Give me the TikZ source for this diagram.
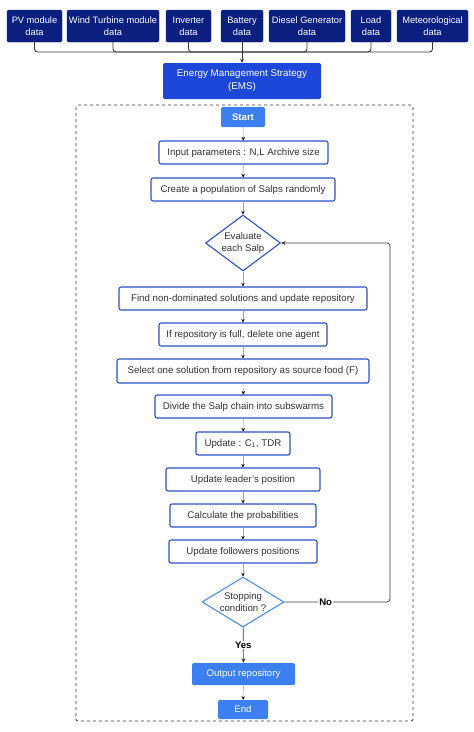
\documentclass[tikz,border=0pt]{standalone}
\usepackage{fontspec}
\setmainfont{Liberation Sans}
\usetikzlibrary{shapes.geometric,arrows.meta}
\definecolor{navy}{HTML}{0B1F80}
\definecolor{emsblue}{HTML}{1C47D8}
\definecolor{ltblue}{HTML}{3B7FF0}
\definecolor{bord}{HTML}{2B50C8}
\definecolor{bord2}{HTML}{4A8FE6}
\definecolor{txt}{HTML}{333333}
\definecolor{lin}{HTML}{3A3A3A}
\tikzset{
  datab/.style={draw=navy,fill=navy,rounded corners=1.5pt,text=white,align=center,minimum height=32pt,inner sep=1pt,font=\fontsize{9.3}{12}\selectfont},
  emsb/.style={fill=emsblue,text=white,rounded corners=1.5pt,align=center,font=\fontsize{9.8}{13}\selectfont},
  termb/.style={fill=ltblue,text=white,rounded corners=1.5pt,font=\fontsize{9.6}{11}\selectfont},
  procb/.style={draw=bord,line width=1.1pt,fill=white,rounded corners=2pt,text=txt,minimum height=23pt,inner sep=1pt,font=\fontsize{9.7}{11}\selectfont},
  decb/.style={diamond,draw=bord,line width=1.1pt,fill=white,inner sep=-10pt,text=txt,align=center,font=\fontsize{9.6}{12}\selectfont},
  flow/.style={draw=gray!70,line width=0.5pt,-{Stealth[length=3.5pt,width=3.5pt,color=black]}},
  conn/.style={draw=lin,line width=0.9pt},
  lbl/.style={fill=white,inner sep=1pt,text=black,font=\bfseries\fontsize{9.6}{11}\selectfont},
}
\begin{document}
\begin{tikzpicture}[x=1pt,y=-1pt]
\useasboundingbox (0,0) rectangle (474,732);
% data boxes
\node[datab,minimum width=55pt] (pv) at (34.5,26) {PV module\\data};
\node[datab,minimum width=92pt] (wind) at (113,26) {Wind Turbine module\\data};
\node[datab,minimum width=45pt] (inv) at (188.5,26) {Inverter\\data};
\node[datab,minimum width=42pt] (bat) at (242,26) {Battery\\data};
\node[datab,minimum width=76pt] (dg) at (307,26) {Diesel Generator\\data};
\node[datab,minimum width=40pt] (load) at (371,26) {Load\\data};
\node[datab,minimum width=71pt] (met) at (432.5,26) {Meteorological\\data};
\node[emsb,minimum width=158pt,minimum height=36pt] (ems) at (242,81) {Energy Management Strategy\\(EMS)};
\coordinate (bus) at (242,52);
\foreach \b in {pv,wind,inv,dg,load,met}{
  \draw[conn,rounded corners=3pt] (\b.south) |- (bus);
}
\draw[conn,-{Stealth[length=4pt,width=4pt]}] (bat.south) -- (ems.north);
% dashed frame
\draw[dashed,line width=0.8pt,draw=lin,rounded corners=2pt] (76,105) rectangle (413,721);
% flow
\node[termb,minimum width=44pt,minimum height=20pt,font=\bfseries\fontsize{9.6}{11}\selectfont] (start) at (243,117) {Start};
\node[procb,minimum width=169pt] (inp) at (243.5,152.5) {Input parameters : N,L Archive size};
\node[procb,minimum width=184pt] (cre) at (243,189.5) {Create a population of Salps randomly};
\node[decb,minimum width=75pt,minimum height=56pt] (eval) at (243,243) {Evaluate\\each Salp};
\node[procb,minimum width=248pt] (find) at (243,298.5) {Find non-dominated solutions and update repository};
\node[procb,minimum width=168pt] (full) at (243,334.5) {If repository is full, delete one agent};
\node[procb,minimum width=252pt,minimum height=24pt] (sel) at (243,371) {Select one solution from repository as source food (F)};
\node[procb,minimum width=177pt] (div) at (243.5,406.5) {Divide the Salp chain into subswarms};
\node[procb,minimum width=94pt] (upd) at (243,443.5) {Update : C\textsubscript{1}, TDR};
\node[procb,minimum width=154pt] (lead) at (243,479.5) {Update leader's position};
\node[procb,minimum width=146pt] (calc) at (243,515.5) {Calculate the probabilities};
\node[procb,minimum width=148pt] (fol) at (243,551.5) {Update followers positions};
\node[decb,draw=bord2,minimum width=82pt,minimum height=50pt] (stop) at (243,602) {Stopping\\condition ?};
\node[termb,minimum width=103pt,minimum height=22pt] (out) at (243.5,674) {Output repository};
\node[termb,minimum width=50pt,minimum height=19pt] (end) at (243,709.5) {End};
\draw[flow] (start) -- (inp);
\draw[flow] (inp) -- (cre);
\draw[flow] (cre) -- (eval);
\draw[flow] (eval) -- (find);
\draw[flow] (find) -- (full);
\draw[flow] (full) -- (sel);
\draw[flow] (sel) -- (div);
\draw[flow] (div) -- (upd);
\draw[flow] (upd) -- (lead);
\draw[flow] (lead) -- (calc);
\draw[flow] (calc) -- (fol);
\draw[flow] (fol) -- (stop);
\draw[flow] (out) -- (end);
\draw[conn,line width=0.7pt,-{Stealth[length=4.5pt,width=4pt]}] (stop) -- node[lbl]{Yes} (out);
\coordinate (lc) at (390,602);
\draw[conn,line width=0.7pt,rounded corners=3pt,-{Stealth[length=4.5pt,width=4pt]}] (stop.east) -- node[lbl,pos=0.39]{No} (lc) |- (eval.east);
\end{tikzpicture}
\end{document}
